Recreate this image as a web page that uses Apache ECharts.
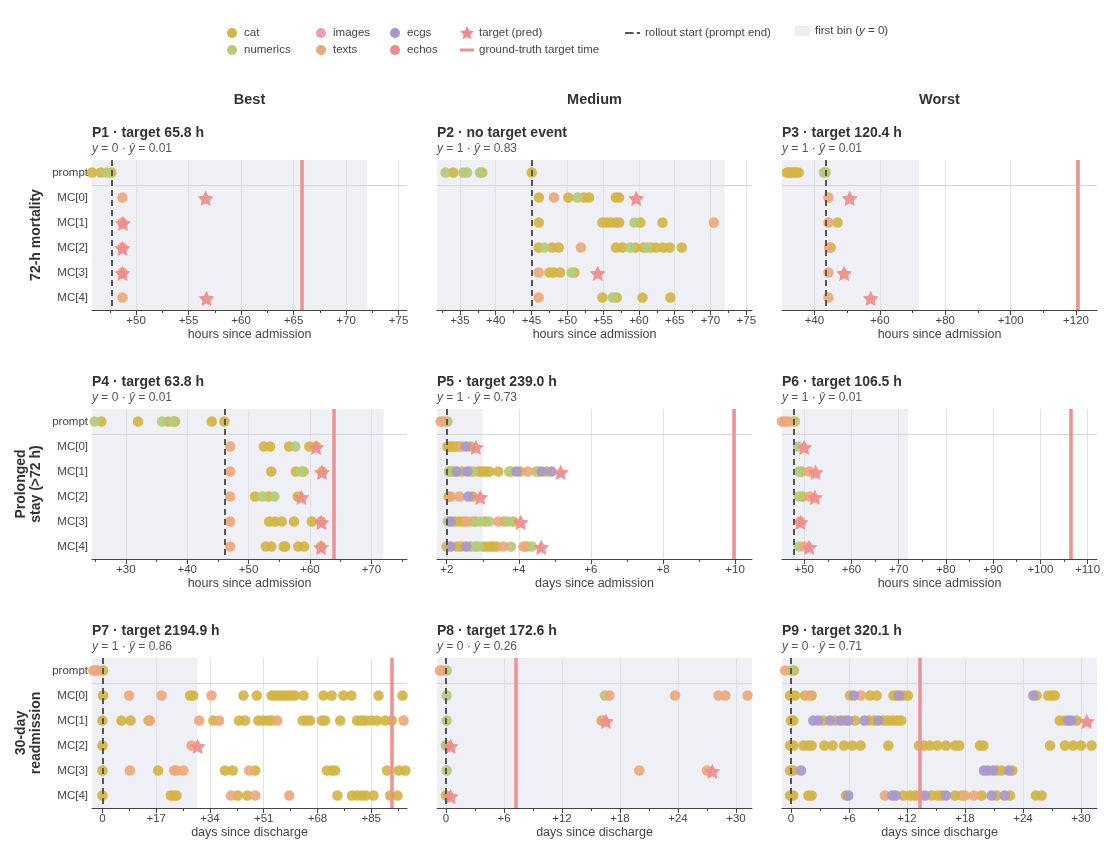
<!DOCTYPE html>
<html>
<head>
<meta charset="utf-8">
<script src="https://cdn.jsdelivr.net/npm/echarts@6/dist/echarts.min.js"></script>
<style>
  html, body { margin: 0; background: #fff; }
  #chart { width: 1108px; height: 859px; }
</style>
</head>
<body>
<div id="chart"></div>
<script>
// ---- data ----
var rowNames = ['prompt', 'MC[0]', 'MC[1]', 'MC[2]', 'MC[3]', 'MC[4]'];
var modalities = ['cat', 'numerics', 'images', 'texts', 'ecgs', 'echos'];
var colHeaders = ['Best', 'Medium', 'Worst'];
var taskNames = ['72-h mortality', 'Prolonged\nstay (>72 h)', '30-day\nreadmission'];

var panelTitles = ['P1 · target 65.8 h', 'P2 · no target event', 'P3 · target 120.4 h',
  'P4 · target 63.8 h', 'P5 · target 239.0 h', 'P6 · target 106.5 h',
  'P7 · target 2194.9 h', 'P8 · target 172.6 h', 'P9 · target 320.1 h'];
var yTrue = ['0', '1', '1', '0', '1', '1', '1', '0', '0'];
var yHat = ['0.01', '0.83', '0.01', '0.01', '0.73', '0.01', '0.86', '0.26', '0.71'];
var axisNames = ['hours since admission', 'hours since admission', 'hours since admission',
  'hours since admission', 'days since admission', 'hours since admission',
  'days since discharge', 'days since discharge', 'days since discharge'];

var xMins = [45.8, 31.8, 30.1, 24.5, 1.73, 45.3, -3.3, -0.93, -0.93];
var xMaxs = [75.8, 75.8, 126.4, 75.8, 10.47, 112.0, 96.3, 31.66, 31.66];
var majorTicks = [
  [50, 55, 60, 65, 70, 75],
  [35, 40, 45, 50, 55, 60, 65, 70, 75],
  [40, 60, 80, 100, 120],
  [30, 40, 50, 60, 70],
  [2, 4, 6, 8, 10],
  [50, 60, 70, 80, 90, 100, 110],
  [0, 17, 34, 51, 68, 85],
  [0, 6, 12, 18, 24, 30],
  [0, 6, 12, 18, 24, 30]
];
var promptEnds = [47.68, 45.0, 43.4, 46.05, 2.0, 47.8, 0, 0, 0];
var targetTimes = [65.8, null, 120.4, 63.8, 9.96, 106.5, 91.45, 7.19, 13.34];
var firstBinEnds = [72, 72, 72, 72, 3, 72, 30, 31.66, 31.66];

// points: [x, row, modality]; row 0 = prompt, 1..5 = MC[0]..MC[4]
var p1Points = [
  [45.8, 0, 'cat'], [46.63, 0, 'cat'], [47.17, 0, 'numerics'], [47.65, 0, 'cat'],
  [48.7, 1, 'texts'], [48.7, 2, 'texts'], [48.7, 3, 'texts'], [48.7, 4, 'texts'], [48.7, 5, 'texts']
];
var p1Stars = [[56.62, 1], [48.75, 2], [48.7, 3], [48.7, 4], [56.7, 5]];

var p2Points = [
  [33.0, 0, 'numerics'], [34.07, 0, 'cat'], [35.47, 0, 'numerics'], [36.0, 0, 'numerics'],
  [37.8, 0, 'numerics'], [38.1, 0, 'cat'], [45.04, 0, 'cat'],
  [46.03, 1, 'cat'], [48.13, 1, 'texts'], [50.14, 1, 'cat'], [51.45, 1, 'numerics'], [52.34, 1, 'cat'],
  [53.04, 1, 'cat'], [56.78, 1, 'cat'], [57.24, 1, 'cat'],
  [46.03, 2, 'cat'], [54.9, 2, 'cat'], [55.5, 2, 'cat'], [56.1, 2, 'cat'], [56.8, 2, 'cat'], [57.25, 2, 'cat'],
  [59.4, 2, 'numerics'], [60.2, 2, 'cat'], [63.3, 2, 'cat'], [70.47, 2, 'texts'],
  [46.0, 3, 'cat'], [46.8, 3, 'numerics'], [47.9, 3, 'cat'], [48.8, 3, 'cat'], [51.9, 3, 'texts'],
  [56.8, 3, 'cat'], [57.7, 3, 'cat'], [58.8, 3, 'numerics'], [59.5, 3, 'cat'], [60.65, 3, 'cat'],
  [61.2, 3, 'numerics'], [61.7, 3, 'cat'], [62.4, 3, 'cat'], [63.4, 3, 'cat'], [64.3, 3, 'cat'], [66.0, 3, 'cat'],
  [46.0, 4, 'texts'], [47.5, 4, 'cat'], [48.1, 4, 'cat'], [49.0, 4, 'cat'], [50.6, 4, 'numerics'], [51.0, 4, 'cat'],
  [46.0, 5, 'texts'], [54.9, 5, 'cat'], [56.35, 5, 'numerics'], [56.9, 5, 'cat'], [60.5, 5, 'cat'], [64.4, 5, 'cat']
];
var p2Stars = [[59.63, 1], [54.25, 4]];

var p3Points = [
  [31.6, 0, 'cat'], [32.2, 0, 'cat'], [32.8, 0, 'cat'], [33.4, 0, 'cat'], [34.0, 0, 'cat'], [34.6, 0, 'cat'],
  [35.2, 0, 'cat'], [43.4, 0, 'cat'], [42.96, 0, 'numerics'],
  [44.3, 1, 'texts'],
  [44.3, 2, 'texts'], [47.1, 2, 'cat'],
  [45.0, 3, 'cat'], [44.5, 3, 'texts'],
  [44.3, 4, 'texts'],
  [44.3, 5, 'texts']
];
var p3Stars = [[50.8, 1], [49.1, 4], [57.2, 5]];

var p4Points = [
  [24.94, 0, 'numerics'], [26.03, 0, 'cat'], [32.0, 0, 'cat'], [35.9, 0, 'numerics'], [36.9, 0, 'cat'],
  [37.6, 0, 'numerics'], [38.0, 0, 'cat'], [44.0, 0, 'cat'], [46.05, 0, 'cat'],
  [47.0, 1, 'texts'], [52.5, 1, 'cat'], [53.5, 1, 'cat'], [56.6, 1, 'cat'], [57.6, 1, 'numerics'],
  [59.9, 1, 'cat'], [61.0, 1, 'cat'],
  [47.0, 2, 'texts'], [53.7, 2, 'cat'], [57.7, 2, 'cat'], [58.6, 2, 'numerics'], [58.95, 2, 'cat'], [62.0, 2, 'cat'],
  [47.0, 3, 'texts'], [51.06, 3, 'cat'], [52.26, 3, 'numerics'], [53.24, 3, 'cat'], [54.2, 3, 'numerics'], [58.0, 3, 'cat'],
  [47.0, 4, 'texts'], [53.35, 4, 'cat'], [54.3, 4, 'cat'], [55.4, 4, 'cat'], [57.4, 4, 'cat'], [60.3, 4, 'cat'], [61.8, 4, 'cat'],
  [47.0, 5, 'texts'], [52.8, 5, 'cat'], [53.7, 5, 'cat'], [55.7, 5, 'cat'], [55.96, 5, 'cat'], [58.1, 5, 'cat'],
  [59.06, 5, 'cat'], [61.8, 5, 'cat']
];
var p4Stars = [[61.0, 1], [61.95, 2], [58.6, 3], [61.85, 4], [61.8, 5]];

var p5Points = [
  [2.02, 0, 'numerics'], [1.83, 0, 'texts'], [1.92, 0, 'texts'],
  [2.02, 1, 'cat'], [2.08, 1, 'cat'], [2.14, 1, 'cat'], [2.2, 1, 'cat'], [2.28, 1, 'cat'], [2.35, 1, 'cat'],
  [2.42, 1, 'texts'], [2.54, 1, 'ecgs'], [2.67, 1, 'cat'],
  [2.06, 2, 'numerics'], [2.12, 2, 'cat'], [2.2, 2, 'cat'], [2.28, 2, 'ecgs'], [2.42, 2, 'cat'], [2.57, 2, 'ecgs'],
  [2.65, 2, 'cat'], [2.74, 2, 'numerics'], [2.88, 2, 'cat'], [2.95, 2, 'cat'], [3.02, 2, 'cat'], [3.1, 2, 'cat'],
  [3.18, 2, 'cat'], [3.43, 2, 'cat'], [3.73, 2, 'numerics'], [3.79, 2, 'cat'], [3.94, 2, 'ecgs'], [4.04, 2, 'cat'],
  [4.25, 2, 'texts'], [4.48, 2, 'numerics'], [4.54, 2, 'cat'], [4.64, 2, 'ecgs'], [4.78, 2, 'cat'], [4.91, 2, 'ecgs'],
  [2.05, 3, 'cat'], [2.11, 3, 'texts'], [2.35, 3, 'texts'], [2.6, 3, 'ecgs'], [2.72, 3, 'cat'],
  [2.03, 4, 'numerics'], [2.11, 4, 'ecgs'], [2.23, 4, 'cat'], [2.35, 4, 'cat'], [2.46, 4, 'cat'], [2.56, 4, 'texts'],
  [2.69, 4, 'numerics'], [2.79, 4, 'cat'], [2.93, 4, 'numerics'], [3.06, 4, 'cat'], [3.18, 4, 'numerics'],
  [3.43, 4, 'texts'], [3.59, 4, 'cat'], [3.71, 4, 'numerics'], [3.85, 4, 'cat'],
  [2.0, 5, 'cat'], [2.11, 5, 'ecgs'], [2.28, 5, 'cat'], [2.4, 5, 'cat'], [2.54, 5, 'ecgs'], [2.66, 5, 'cat'],
  [2.79, 5, 'numerics'], [2.88, 5, 'numerics'], [3.02, 5, 'cat'], [3.12, 5, 'cat'], [3.22, 5, 'cat'], [3.3, 5, 'cat'],
  [3.39, 5, 'cat'], [3.57, 5, 'texts'], [3.78, 5, 'numerics'], [4.13, 5, 'texts'], [4.22, 5, 'cat'], [4.36, 5, 'numerics']
];
var p5Stars = [[2.81, 1], [5.16, 2], [2.93, 3], [4.05, 4], [4.62, 5]];

var p6Points = [
  [45.3, 0, 'texts'], [46.0, 0, 'texts'], [46.7, 0, 'texts'], [47.6, 0, 'numerics'], [48.0, 0, 'cat'],
  [48.7, 1, 'numerics'],
  [48.87, 2, 'numerics'], [49.4, 2, 'cat'], [51.06, 2, 'texts'],
  [48.87, 3, 'numerics'], [49.6, 3, 'cat'], [51.2, 3, 'texts'],
  [49.2, 4, 'texts'],
  [48.87, 5, 'numerics'], [50.0, 5, 'texts']
];
var p6Stars = [[50.0, 1], [52.4, 2], [52.26, 3], [49.2, 4], [51.06, 5]];

var p7Points = [
  [-2.9, 0, 'texts'], [-2.1, 0, 'texts'], [-1.3, 0, 'texts'], [0.2, 0, 'cat'],
  [0.2, 1, 'cat'], [8.45, 1, 'texts'], [18.7, 1, 'texts'], [27.7, 1, 'cat'], [28.7, 1, 'cat'], [34.5, 1, 'texts'],
  [44.6, 1, 'cat'], [48.8, 1, 'cat'], [53.5, 1, 'cat'], [54.6, 1, 'cat'], [55.6, 1, 'cat'], [56.7, 1, 'cat'],
  [57.7, 1, 'cat'], [58.8, 1, 'cat'], [59.8, 1, 'cat'], [60.9, 1, 'cat'], [63.6, 1, 'cat'], [69.9, 1, 'cat'],
  [72.5, 1, 'cat'], [76.2, 1, 'cat'], [78.7, 1, 'cat'], [87.3, 1, 'cat'], [94.9, 1, 'cat'],
  [0, 2, 'cat'], [6.0, 2, 'cat'], [8.9, 2, 'cat'], [14.6, 2, 'cat'], [15.0, 2, 'texts'], [30.6, 2, 'texts'],
  [35.1, 2, 'cat'], [36.9, 2, 'texts'], [43.2, 2, 'cat'], [45.1, 2, 'cat'], [49.3, 2, 'cat'], [50.9, 2, 'cat'],
  [52.4, 2, 'cat'], [53.5, 2, 'cat'], [55.3, 2, 'texts'], [63.3, 2, 'cat'], [64.5, 2, 'cat'], [65.7, 2, 'cat'],
  [69.4, 2, 'cat'], [70.4, 2, 'cat'], [75.2, 2, 'cat'], [80.5, 2, 'cat'], [81.8, 2, 'cat'], [83.1, 2, 'cat'],
  [85.0, 2, 'cat'], [86.8, 2, 'cat'], [89.4, 2, 'cat'], [91.5, 2, 'cat'], [95.2, 2, 'texts'],
  [0, 3, 'cat'], [28.2, 3, 'texts'],
  [0, 4, 'cat'], [8.66, 4, 'texts'], [17.6, 4, 'cat'], [22.7, 4, 'texts'], [23.4, 4, 'texts'], [25.6, 4, 'texts'],
  [38.75, 4, 'cat'], [41.2, 4, 'cat'], [46.4, 4, 'texts'], [48.3, 4, 'cat'], [71.0, 4, 'cat'], [72.6, 4, 'cat'],
  [73.6, 4, 'cat'], [90.0, 4, 'cat'], [93.7, 4, 'cat'], [95.8, 4, 'cat'],
  [0, 5, 'cat'], [21.6, 5, 'cat'], [22.6, 5, 'cat'], [23.4, 5, 'cat'], [40.7, 5, 'texts'], [42.8, 5, 'cat'],
  [45.8, 5, 'cat'], [48.3, 5, 'texts'], [59.1, 5, 'texts'], [74.3, 5, 'cat'], [78.9, 5, 'cat'], [80.5, 5, 'cat'],
  [82.0, 5, 'cat'], [83.3, 5, 'cat'], [85.7, 5, 'cat'], [91.0, 5, 'cat'], [93.3, 5, 'cat']
];
var p7Stars = [[30.1, 3]];

var p8Points = [
  [-0.62, 0, 'texts'], [-0.34, 0, 'texts'], [0.07, 0, 'numerics'],
  [0.07, 1, 'numerics'], [16.45, 1, 'numerics'], [16.9, 1, 'texts'], [23.7, 1, 'texts'], [28.2, 1, 'texts'],
  [28.9, 1, 'texts'], [31.2, 1, 'texts'],
  [0.07, 2, 'numerics'], [16.1, 2, 'cat'], [16.3, 2, 'texts'],
  [0.05, 3, 'cat'], [0.0, 3, 'numerics'],
  [0.07, 4, 'numerics'], [20.0, 4, 'texts'], [27.0, 4, 'texts'],
  [0.0, 5, 'cat']
];
var p8Stars = [[16.55, 2], [0.48, 3], [27.55, 4], [0.48, 5]];

var p9Points = [
  [-0.6, 0, 'texts'], [0.3, 0, 'cat'], [0.05, 0, 'numerics'],
  [-0.1, 1, 'cat'], [0.41, 1, 'cat'], [1.45, 1, 'cat'], [1.8, 1, 'texts'], [2.14, 1, 'cat'], [6.1, 1, 'cat'],
  [6.5, 1, 'ecgs'], [7.24, 1, 'texts'], [8.17, 1, 'cat'], [8.86, 1, 'cat'], [10.6, 1, 'cat'], [10.9, 1, 'cat'],
  [11.2, 1, 'ecgs'], [11.6, 1, 'cat'], [12.1, 1, 'cat'], [25.07, 1, 'ecgs'], [25.4, 1, 'cat'], [26.6, 1, 'cat'],
  [27.0, 1, 'cat'], [27.3, 1, 'cat'],
  [0, 2, 'cat'], [0.24, 2, 'cat'], [2.31, 2, 'ecgs'], [2.83, 2, 'ecgs'], [3.34, 2, 'cat'], [4.03, 2, 'ecgs'],
  [4.55, 2, 'cat'], [5.14, 2, 'ecgs'], [5.59, 2, 'cat'], [5.93, 2, 'ecgs'], [6.62, 2, 'cat'], [7.59, 2, 'ecgs'],
  [8.1, 2, 'cat'], [8.62, 2, 'cat'], [9.03, 2, 'ecgs'], [9.55, 2, 'cat'], [10.0, 2, 'cat'], [10.5, 2, 'cat'],
  [11.0, 2, 'cat'], [11.4, 2, 'cat'], [27.8, 2, 'cat'], [28.3, 2, 'cat'], [28.7, 2, 'ecgs'], [29.0, 2, 'ecgs'],
  [29.55, 2, 'cat'],
  [-0.1, 3, 'cat'], [0.24, 3, 'cat'], [1.28, 3, 'cat'], [1.8, 3, 'cat'], [2.14, 3, 'cat'], [3.45, 3, 'cat'],
  [4.31, 3, 'cat'], [5.48, 3, 'cat'], [6.34, 3, 'cat'], [7.2, 3, 'cat'], [10.07, 3, 'cat'], [13.24, 3, 'cat'],
  [13.76, 3, 'cat'], [14.38, 3, 'cat'], [15.14, 3, 'cat'], [16.03, 3, 'cat'], [16.97, 3, 'cat'], [17.4, 3, 'cat'],
  [19.55, 3, 'cat'], [19.9, 3, 'cat'], [26.8, 3, 'cat'], [28.34, 3, 'cat'], [29.2, 3, 'cat'], [30.0, 3, 'cat'],
  [31.1, 3, 'cat'],
  [-0.1, 4, 'cat'], [0.24, 4, 'cat'], [1.03, 4, 'ecgs'], [19.97, 4, 'ecgs'], [20.4, 4, 'ecgs'], [20.9, 4, 'ecgs'],
  [21.3, 4, 'cat'], [21.8, 4, 'cat'], [22.55, 4, 'ecgs'], [22.9, 4, 'cat'],
  [-0.1, 5, 'cat'], [0.24, 5, 'cat'], [1.8, 5, 'cat'], [2.14, 5, 'cat'], [5.69, 5, 'cat'], [5.93, 5, 'ecgs'],
  [9.72, 5, 'texts'], [10.48, 5, 'ecgs'], [10.83, 5, 'ecgs'], [11.62, 5, 'cat'], [12.31, 5, 'cat'], [12.83, 5, 'cat'],
  [13.3, 5, 'cat'], [13.86, 5, 'ecgs'], [14.55, 5, 'cat'], [15.2, 5, 'cat'], [15.6, 5, 'cat'], [16.03, 5, 'ecgs'],
  [16.97, 5, 'cat'], [17.66, 5, 'cat'], [18.0, 5, 'texts'], [18.93, 5, 'texts'], [19.72, 5, 'cat'], [20.76, 5, 'ecgs'],
  [21.28, 5, 'cat'], [22.1, 5, 'ecgs'], [22.66, 5, 'cat'], [25.34, 5, 'cat'], [25.93, 5, 'cat']
];
var p9Stars = [[30.6, 2]];

var panelPoints = [p1Points, p2Points, p3Points, p4Points, p5Points, p6Points, p7Points, p8Points, p9Points];
var panelStars = [p1Stars, p2Stars, p3Stars, p4Stars, p5Stars, p6Stars, p7Stars, p8Stars, p9Stars];

// ---- styles / layout ----
var colors = {
  cat: '#D5B443', numerics: '#B4CB78', images: '#EC9DB8',
  texts: '#EEA878', ecgs: '#A898CC', echos: '#E98B8B'
};
var starColor = '#EE8D8D';
var gtColor = '#EE9191';
var dashColor = '#555555';
var shadeColor = 'rgba(214,219,232,0.42)';
var FONT = '"Liberation Sans", Arial, sans-serif';
var STAR = 'path://M50,0L64.69,29.77L97.55,34.55L73.78,57.73L79.39,90.45L50,75L20.61,90.45L26.22,57.73L2.45,34.55L35.31,29.77Z';

var gridLefts = [92, 437, 782];
var gridTops = [160, 409, 658];
var gridW = 315, gridH = 150;

function fmtTick(v) { return v === 0 ? '0' : '+' + v; }

function minorTicksOf(g) {
  var maj = majorTicks[g], step = maj[1] - maj[0], out = [];
  for (var v = maj[0] - step / 2; v <= xMaxs[g]; v += step) {
    if (v >= xMins[g]) out.push(+v.toFixed(3));
  }
  return out;
}

var chart = echarts.init(document.getElementById('chart'));
var grids = [], xAxes = [], yAxes = [], series = [], titles = [];

colHeaders.forEach(function (h, c) {
  titles.push({
    text: h, left: gridLefts[c] + gridW / 2, top: 92, textAlign: 'center', padding: 0,
    textStyle: { fontFamily: FONT, fontSize: 14.5, fontWeight: 'bold', color: '#333' }
  });
});

for (var g = 0; g < 9; g++) {
  var row = Math.floor(g / 3), col = g % 3;
  grids.push({ left: gridLefts[col], top: gridTops[row], width: gridW, height: gridH });

  titles.push({
    text: panelTitles[g],
    subtext: '{i|y} = ' + yTrue[g] + ' · {i|ŷ} = ' + yHat[g],
    left: gridLefts[col], top: gridTops[row] - 34, padding: 0, itemGap: 3,
    textStyle: { fontFamily: FONT, fontSize: 14, fontWeight: 'bold', color: '#333' },
    subtextStyle: {
      fontFamily: FONT, fontSize: 12, color: '#555',
      rich: { i: { fontFamily: FONT, fontSize: 12, color: '#555', fontStyle: 'italic' } }
    }
  });

  xAxes.push({
    type: 'value', gridIndex: g, position: 'bottom', min: xMins[g], max: xMaxs[g],
    name: axisNames[g], nameLocation: 'middle', nameGap: 18,
    nameTextStyle: { fontFamily: FONT, fontSize: 12.5, color: '#444' },
    axisLine: { show: true, onZero: false, lineStyle: { color: '#444', width: 1 } },
    axisTick: { show: true, length: 5, customValues: majorTicks[g], lineStyle: { color: '#444' } },
    axisLabel: { customValues: majorTicks[g], formatter: fmtTick, margin: 5,
      fontFamily: FONT, fontSize: 11.5, color: '#444' },
    splitLine: { show: true, lineStyle: { color: '#e3e3e3', width: 1 } }
  });
  xAxes.push({
    type: 'value', gridIndex: g, position: 'bottom', min: xMins[g], max: xMaxs[g],
    axisLine: { show: false, onZero: false },
    axisTick: { show: true, length: 3, customValues: minorTicksOf(g), lineStyle: { color: '#444' } },
    axisLabel: { show: false },
    splitLine: { show: false }
  });

  yAxes.push({
    type: 'category', gridIndex: g, data: rowNames, inverse: true, position: 'left',
    name: col === 0 ? taskNames[row] : '', nameLocation: 'middle', nameRotate: 90, nameGap: 48,
    nameTextStyle: { fontFamily: FONT, fontSize: 14, fontWeight: 'bold', color: '#333', lineHeight: 15 },
    axisLine: { show: false, onZero: false }, axisTick: { show: false }, splitLine: { show: false },
    axisLabel: { show: col === 0, margin: 4, fontFamily: FONT, fontSize: 11.5, color: '#444' }
  });
  yAxes.push({
    type: 'value', gridIndex: g, min: -0.5, max: 5.5, inverse: true, show: false,
    axisLine: { onZero: false }
  });

  var xi = 2 * g, yi = 2 * g + 1;

  // first-bin shading and prompt separator
  series.push({
    name: 'first bin (y = 0)', type: 'line', xAxisIndex: xi, yAxisIndex: yi, data: [],
    itemStyle: { color: '#ECEEF4' }, z: 1, silent: true,
    markArea: { silent: true, itemStyle: { color: shadeColor },
      data: [[{ xAxis: xMins[g] }, { xAxis: firstBinEnds[g] }]] },
    markLine: { silent: true, symbol: 'none', label: { show: false },
      lineStyle: { color: '#d6d6d6', width: 1, type: 'solid' }, data: [{ yAxis: 0.5 }] }
  });

  modalities.forEach(function (m) {
    var pts = panelPoints[g].filter(function (p) { return p[2] === m; })
      .map(function (p) { return [p[0], p[1]]; });
    series.push({
      name: m, type: 'scatter', xAxisIndex: xi, yAxisIndex: yi, data: pts,
      symbol: 'circle', symbolSize: 10.5, z: 2, silent: true,
      itemStyle: { color: colors[m], opacity: 0.92 }
    });
  });

  series.push({
    name: 'rollout start (prompt end)', type: 'line', xAxisIndex: xi, yAxisIndex: yi, data: [],
    itemStyle: { color: dashColor }, z: 3, silent: true,
    markLine: { silent: true, symbol: 'none', label: { show: false },
      lineStyle: { color: dashColor, width: 2, type: [6, 4] }, data: [{ xAxis: promptEnds[g] }] }
  });

  series.push({
    name: 'ground-truth target time', type: 'line', xAxisIndex: xi, yAxisIndex: yi, data: [],
    itemStyle: { color: gtColor }, z: 3, silent: true,
    markLine: { silent: true, symbol: 'none', label: { show: false },
      lineStyle: { color: gtColor, width: 3.5, type: 'solid' },
      data: targetTimes[g] === null ? [] : [{ xAxis: targetTimes[g] }] }
  });

  series.push({
    name: 'target (pred)', type: 'scatter', xAxisIndex: xi, yAxisIndex: yi, data: panelStars[g],
    symbol: STAR, symbolSize: 16, symbolKeepAspect: true, symbolOffset: [0, 0.8], z: 4, silent: true,
    itemStyle: { color: starColor, opacity: 0.95 }
  });
}

// legend: one small legend per entry
var legendSpec = [
  { name: 'cat', icon: 'circle', color: colors.cat, left: 227, top: 27, w: 14, h: 10 },
  { name: 'numerics', icon: 'circle', color: colors.numerics, left: 227, top: 44, w: 14, h: 10 },
  { name: 'images', icon: 'circle', color: colors.images, left: 316, top: 27, w: 14, h: 10 },
  { name: 'texts', icon: 'circle', color: colors.texts, left: 316, top: 44, w: 14, h: 10 },
  { name: 'ecgs', icon: 'circle', color: colors.ecgs, left: 390, top: 27, w: 14, h: 10 },
  { name: 'echos', icon: 'circle', color: colors.echos, left: 390, top: 44, w: 14, h: 10 },
  { name: 'target (pred)', icon: STAR, color: starColor, left: 460, top: 26, w: 14, h: 14 },
  { name: 'ground-truth target time', icon: 'rect', color: gtColor, left: 460, top: 44, w: 14, h: 3 },
  { name: 'rollout start (prompt end)', icon: 'path://M0,0H8V2H0Z M11,0H14V2H11Z', color: dashColor, left: 625, top: 27, w: 15, h: 2.5 },
  { name: 'first bin (y = 0)', icon: 'rect', color: '#ECEEF4', left: 795, top: 25, w: 15, h: 10 }
];
var legends = legendSpec.map(function (s) {
  return {
    data: [{ name: s.name, icon: s.icon, itemStyle: { color: s.color, opacity: 1 } }],
    left: s.left, top: s.top, padding: 0, itemWidth: s.w, itemHeight: s.h, selectedMode: false,
    formatter: function (n) { return n === 'first bin (y = 0)' ? 'first bin ({i|y} = 0)' : n; },
    textStyle: { fontFamily: FONT, fontSize: 11.5, color: '#444',
      rich: { i: { fontFamily: FONT, fontSize: 11.5, color: '#444', fontStyle: 'italic' } } }
  };
});

chart.setOption({
  animation: false,
  backgroundColor: '#fff',
  textStyle: { fontFamily: FONT },
  title: titles,
  legend: legends,
  grid: grids,
  xAxis: xAxes,
  yAxis: yAxes,
  series: series
});
</script>
</body>
</html>
